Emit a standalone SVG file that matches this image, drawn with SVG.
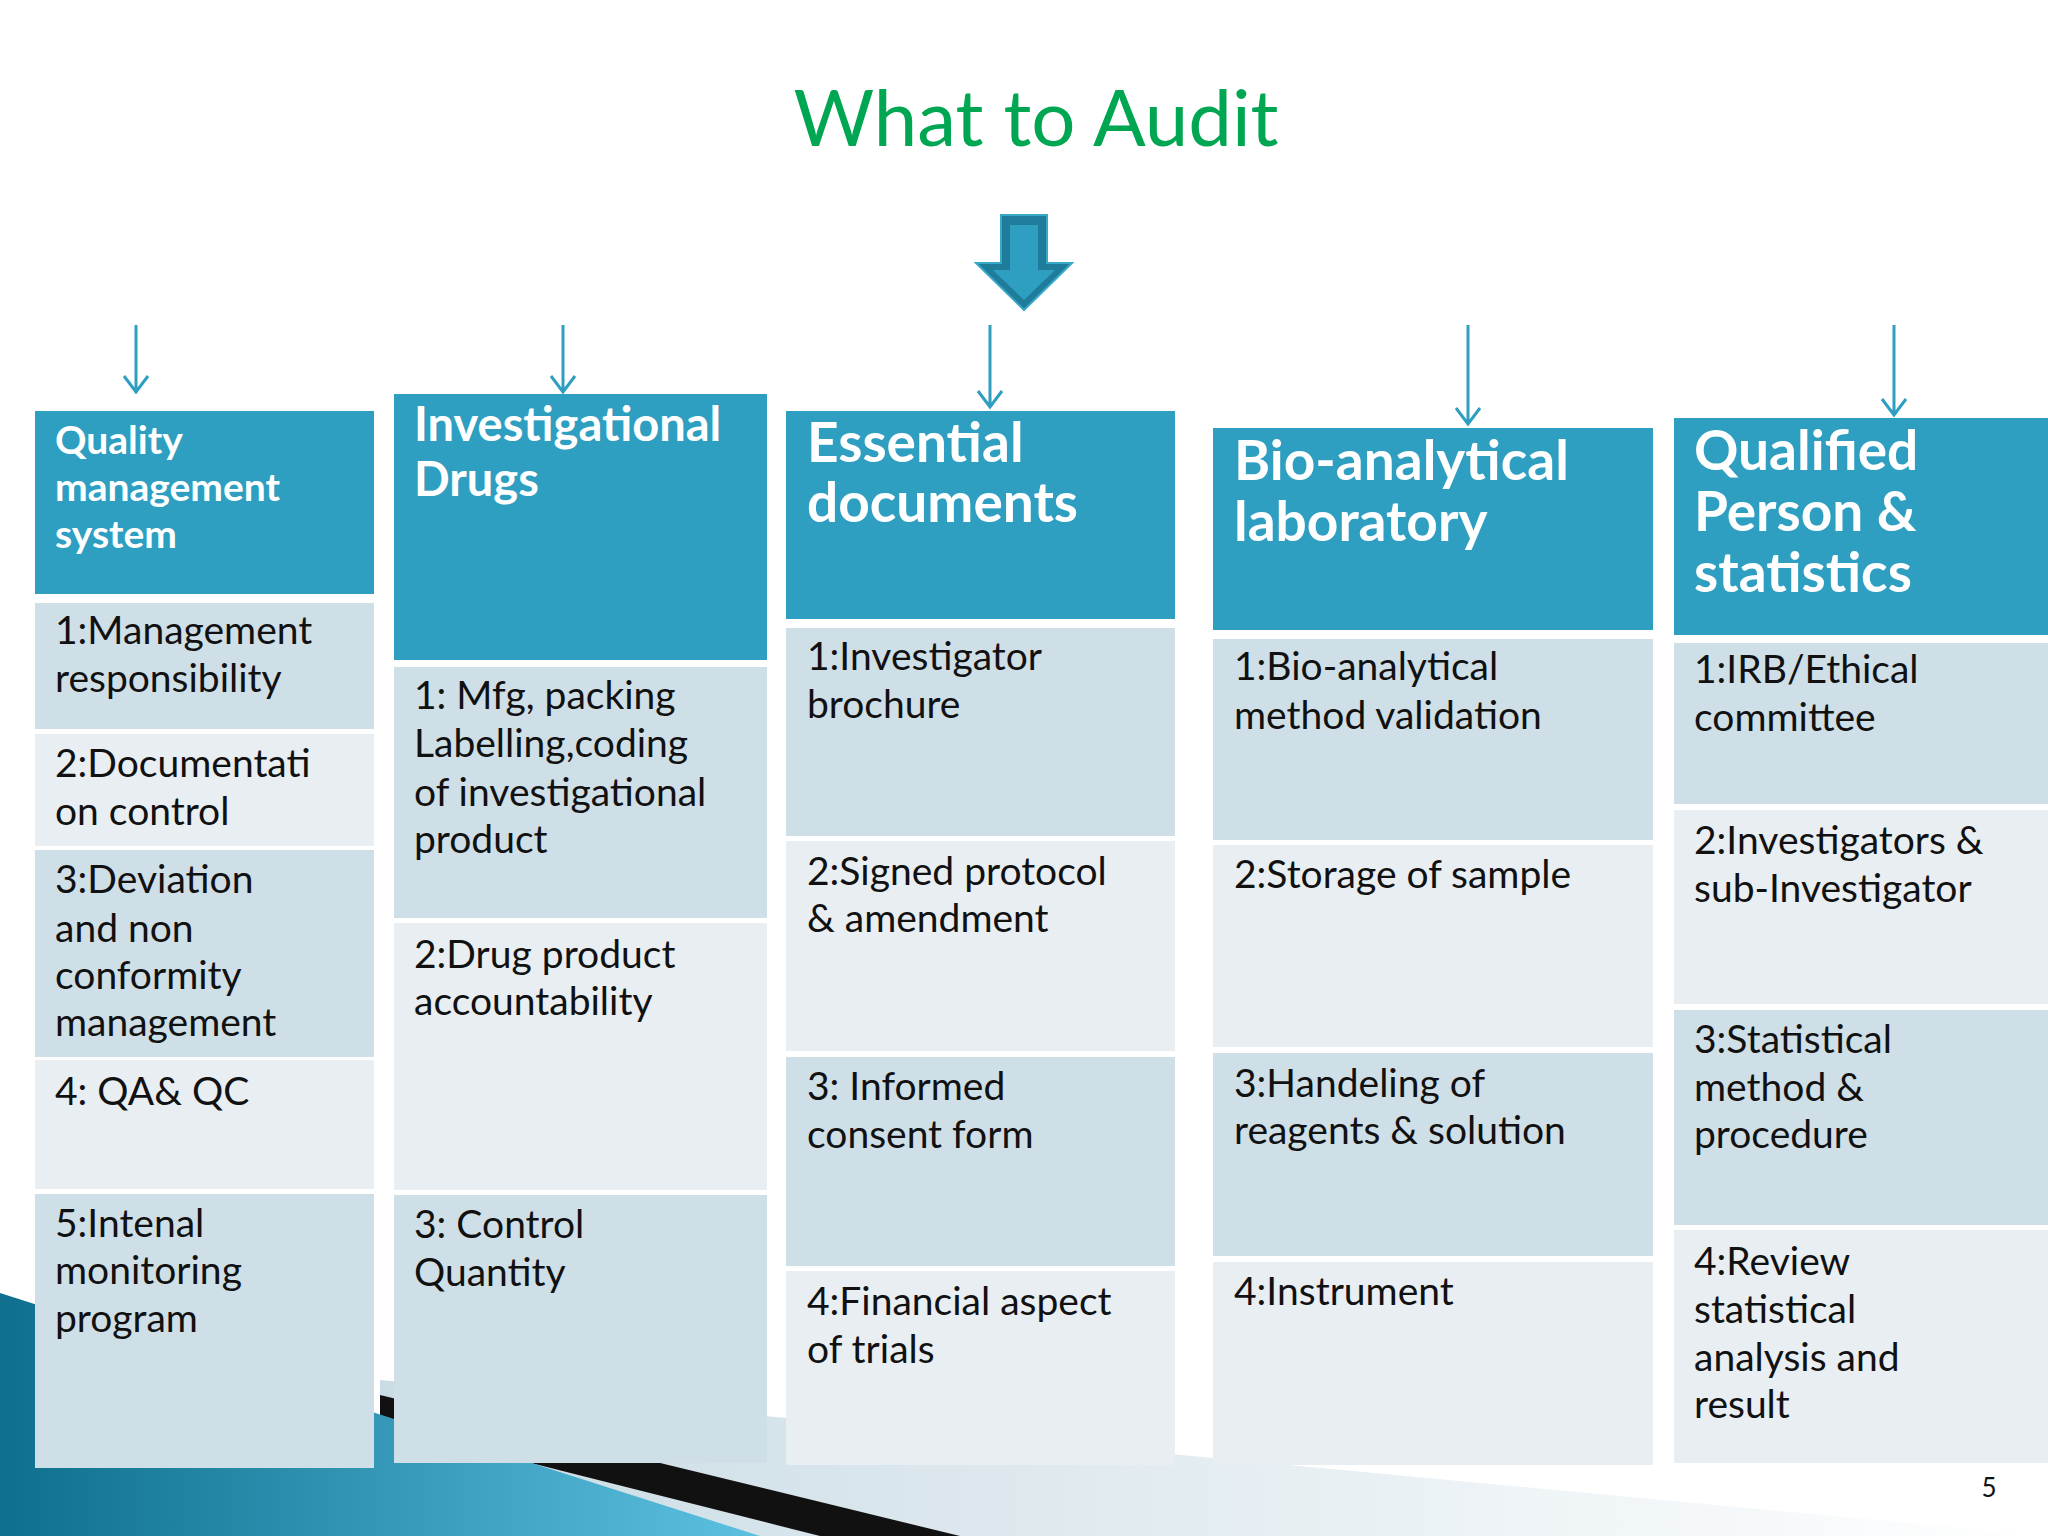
<svg xmlns="http://www.w3.org/2000/svg" width="2048" height="1536" viewBox="0 0 2048 1536">
<defs>
<style>
.h{fill:#2e9fc1}.d{fill:#cfdfe7}.l{fill:#e8eef2}
.ht{font-family:Lato,"Open Sans",sans-serif;fill:#fff;font-weight:bold}
.bt{font-family:Lato,"Open Sans",sans-serif;fill:#111;font-size:39px}
.ar{stroke:#2e9fc1;stroke-width:3;fill:none}
</style>
<linearGradient id="bl" x1="0" y1="0" x2="1" y2="0"><stop offset="0" stop-color="#0e6f8e"/><stop offset="1" stop-color="#5cc0e0"/></linearGradient>
<linearGradient id="gr" x1="0" y1="0" x2="1" y2="0"><stop offset="0" stop-color="#c9dbe4"/><stop offset="1" stop-color="#ffffff"/></linearGradient>
</defs>
<rect width="2048" height="1536" fill="#fff"/>
<polygon points="380,1380 2048,1536 380,1536" fill="url(#gr)"/>
<polygon points="380,1395 960,1536 820,1536 380,1425" fill="#111"/>
<polygon points="0,1293 760,1536 0,1536" fill="url(#bl)"/>
<text x="1036" y="146" font-family="Lato,'Open Sans',sans-serif" font-size="78" fill="#00a651" text-anchor="middle">What to Audit</text>
<polygon points="1001,215 1047,215 1047,263 1072,263 1024,310 976,263 1001,263" fill="#1f7d9b" stroke="#3aa8c8" stroke-width="2"/>
<polygon points="1010,225 1038,225 1038,270 1055,270 1024,300 993,270 1010,270" fill="#2e9fc1"/>
<g id="connectors">
<path class="ar" d="M136,325V392M124,376L136,392L148,376"/>
<path class="ar" d="M563,325V392M551,376L563,392L575,376"/>
<path class="ar" d="M990,325V407M978,391L990,407L1002,391"/>
<path class="ar" d="M1468,325V424M1456,408L1468,424L1480,408"/>
<path class="ar" d="M1894,325V415M1882,399L1894,415L1906,399"/>
</g>
<g id="col1">
<rect class="h" x="35" y="411" width="339" height="183"/>
<text class="ht" font-size="39"><tspan x="55" y="454">Quality</tspan><tspan x="55" y="501">management</tspan><tspan x="55" y="548">system</tspan></text>
<rect class="d" x="35" y="603" width="339" height="126"/>
<rect class="l" x="35" y="734" width="339" height="112"/>
<rect class="d" x="35" y="850" width="339" height="207"/>
<rect class="l" x="35" y="1060" width="339" height="129"/>
<rect class="d" x="35" y="1194" width="339" height="274"/>
<text class="bt"><tspan x="55" y="644">1:Management</tspan><tspan x="55" y="692">responsibility</tspan><tspan x="55" y="777">2:Documentati</tspan><tspan x="55" y="825">on control</tspan><tspan x="55" y="893">3:Deviation</tspan><tspan x="55" y="942">and non</tspan><tspan x="55" y="989">conformity</tspan><tspan x="55" y="1036">management</tspan><tspan x="55" y="1105">4: QA&amp; QC</tspan><tspan x="55" y="1237">5:Intenal</tspan><tspan x="55" y="1284">monitoring</tspan><tspan x="55" y="1332">program</tspan></text>
</g>
<g id="col2">
<rect class="h" x="394" y="394" width="373" height="266"/>
<text class="ht" font-size="47"><tspan x="414" y="441">Investigational</tspan><tspan x="414" y="496">Drugs</tspan></text>
<rect class="d" x="394" y="667" width="373" height="251"/>
<rect class="l" x="394" y="923" width="373" height="267"/>
<rect class="d" x="394" y="1195" width="373" height="268"/>
<text class="bt"><tspan x="414" y="709">1: Mfg, packing</tspan><tspan x="414" y="757">Labelling,coding</tspan><tspan x="414" y="806">of investigational</tspan><tspan x="414" y="853">product</tspan><tspan x="414" y="968">2:Drug product</tspan><tspan x="414" y="1015">accountability</tspan><tspan x="414" y="1238">3: Control</tspan><tspan x="414" y="1286">Quantity</tspan></text>
</g>
<g id="col3">
<rect class="h" x="786" y="411" width="389" height="208"/>
<text class="ht" font-size="55"><tspan x="807" y="462">Essential</tspan><tspan x="807" y="522">documents</tspan></text>
<rect class="d" x="786" y="628" width="389" height="208"/>
<rect class="l" x="786" y="841" width="389" height="210"/>
<rect class="d" x="786" y="1057" width="389" height="209"/>
<rect class="l" x="786" y="1271" width="389" height="194"/>
<text class="bt"><tspan x="807" y="670">1:Investigator</tspan><tspan x="807" y="718">brochure</tspan><tspan x="807" y="885">2:Signed protocol</tspan><tspan x="807" y="932">&amp; amendment</tspan><tspan x="807" y="1100">3: Informed</tspan><tspan x="807" y="1148">consent form</tspan><tspan x="807" y="1315">4:Financial aspect</tspan><tspan x="807" y="1363">of trials</tspan></text>
</g>
<g id="col4">
<rect class="h" x="1213" y="428" width="440" height="202"/>
<text class="ht" font-size="55"><tspan x="1234" y="480">Bio-analytical</tspan><tspan x="1234" y="541">laboratory</tspan></text>
<rect class="d" x="1213" y="639" width="440" height="201"/>
<rect class="l" x="1213" y="845" width="440" height="202"/>
<rect class="d" x="1213" y="1053" width="440" height="203"/>
<rect class="l" x="1213" y="1262" width="440" height="203"/>
<text class="bt"><tspan x="1234" y="680">1:Bio-analytical</tspan><tspan x="1234" y="729">method validation</tspan><tspan x="1234" y="888">2:Storage of sample</tspan><tspan x="1234" y="1097">3:Handeling of</tspan><tspan x="1234" y="1144">reagents &amp; solution</tspan><tspan x="1234" y="1305">4:Instrument</tspan></text>
</g>
<g id="col5">
<rect class="h" x="1674" y="418" width="374" height="217"/>
<text class="ht" font-size="55"><tspan x="1694" y="470">Qualified</tspan><tspan x="1694" y="531">Person &amp;</tspan><tspan x="1694" y="592">statistics</tspan></text>
<rect class="d" x="1674" y="643" width="374" height="161"/>
<rect class="l" x="1674" y="810" width="374" height="194"/>
<rect class="d" x="1674" y="1010" width="374" height="215"/>
<rect class="l" x="1674" y="1230" width="374" height="233"/>
<text class="bt"><tspan x="1694" y="683">1:IRB/Ethical</tspan><tspan x="1694" y="731">committee</tspan><tspan x="1694" y="854">2:Investigators &amp;</tspan><tspan x="1694" y="902">sub-Investigator</tspan><tspan x="1694" y="1053">3:Statistical</tspan><tspan x="1694" y="1101">method &amp;</tspan><tspan x="1694" y="1148">procedure</tspan><tspan x="1694" y="1275">4:Review</tspan><tspan x="1694" y="1323">statistical</tspan><tspan x="1694" y="1371">analysis and</tspan><tspan x="1694" y="1418">result</tspan></text>
</g>
<text x="1989" y="1497" font-family="Lato,sans-serif" font-size="26" fill="#111" text-anchor="middle">5</text>
</svg>
